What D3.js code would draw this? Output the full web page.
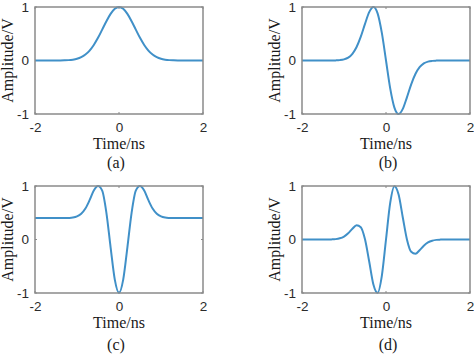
<!DOCTYPE html>
<html>
<head>
<meta charset="utf-8">
<script src="https://cdn.jsdelivr.net/npm/d3@7"></script>
<style>
  html, body { margin: 0; padding: 0; background: #fff; }
  svg { display: block; }
</style>
</head>
<body>
<svg id="chart" width="474" height="355"></svg>
<script>
// ---- data ----
const time = [-2.0,-1.9,-1.8,-1.7,-1.6,-1.5,-1.4,-1.3,-1.2,-1.1,-1.0,-0.9,-0.8,-0.7,-0.6,-0.5,-0.4,-0.3,-0.2,-0.1,
  0.0,0.1,0.2,0.3,0.4,0.5,0.6,0.7,0.8,0.9,1.0,1.1,1.2,1.3,1.4,1.5,1.6,1.7,1.8,1.9,2.0];

const pulseA = [0,0,0,0,0,0,0.001,0.003,0.007,0.016,0.032,0.062,0.111,0.186,0.291,0.424,0.578,0.734,0.872,0.966,
  1.0,0.966,0.872,0.734,0.578,0.424,0.291,0.186,0.111,0.062,0.032,0.016,0.007,0.003,0.001,0,0,0,0,0,0];

const pulseB = [0,0,0,0,0,0,0,0,0.002,0.007,0.021,0.055,0.126,0.253,0.446,0.685,0.904,1.0,0.880,0.520,
  0,-0.520,-0.880,-1.0,-0.904,-0.685,-0.446,-0.253,-0.126,-0.055,-0.021,-0.007,-0.002,0,0,0,0,0,0,0,0];

const pulseC = [0.4,0.4,0.4,0.4,0.4,0.4,0.4,0.4,0.403,0.410,0.431,0.481,0.579,0.735,0.915,1.0,0.914,0.499,-0.146,-0.751,
  -1.0,-0.751,-0.146,0.499,0.914,1.0,0.915,0.735,0.579,0.481,0.431,0.410,0.403,0.4,0.4,0.4,0.4,0.4,0.4,0.4,0.4];

const pulseD = [0,0,0,0,0,0,0,0.002,0.007,0.022,0.055,0.116,0.200,0.267,0.231,0.004,-0.411,-0.841,-0.996,-0.683,
  0,0.683,0.996,0.841,0.411,-0.004,-0.231,-0.267,-0.200,-0.116,-0.055,-0.022,-0.007,-0.002,0,0,0,0,0,0,0];

const xTicks = [-2, 0, 2];
const yTicks = [-1, 0, 1];
const xLabel = "Time/ns";
const yLabel = "Amplitude/V";
const panelNames = ["(a)", "(b)", "(c)", "(d)"];
const series = [pulseA, pulseB, pulseC, pulseD];

// ---- layout ----
const panels = [
  { left: 35,  top: 7,   nameDx: -3, nameDy: 54 },
  { left: 302, top: 7,   nameDx: 2,  nameDy: 54 },
  { left: 35,  top: 186, nameDx: -3, nameDy: 57 },
  { left: 302, top: 186, nameDx: 2,  nameDy: 57 }
];
const W = 168, H = 107;
const lineColor = "#4090c8";
const boxColor = "#8a8a8a";
const sans = "'Liberation Sans', Arial, sans-serif";
const serif = "'Liberation Serif', 'Times New Roman', serif";

const svg = d3.select("#chart");

panels.forEach((p, i) => {
  const g = svg.append("g").attr("transform", `translate(${p.left},${p.top})`);
  const x = d3.scaleLinear().domain([-2, 2]).range([0, W]);
  const y = d3.scaleLinear().domain([-1, 1]).range([H, 0]);

  const fmt = d => String(d);
  const xAxis = g.append("g").attr("transform", `translate(0,${H})`)
    .call(d3.axisBottom(x).tickValues(xTicks).tickSize(0).tickPadding(8).tickFormat(fmt));
  const yAxis = g.append("g")
    .call(d3.axisLeft(y).tickValues(yTicks).tickSize(0).tickPadding(6).tickFormat(fmt));
  [xAxis, yAxis].forEach(a => {
    a.select(".domain").remove();
    a.selectAll("text")
      .attr("font-family", sans)
      .attr("font-size", 13.5)
      .attr("fill", "#2b2b2b");
  });

  // inner tick marks (MATLAB style)
  xTicks.forEach(t => {
    g.append("line").attr("x1", x(t)).attr("x2", x(t)).attr("y1", H).attr("y2", H - 2)
      .attr("stroke", boxColor).attr("stroke-width", 1);
    g.append("line").attr("x1", x(t)).attr("x2", x(t)).attr("y1", 0).attr("y2", 2)
      .attr("stroke", boxColor).attr("stroke-width", 1);
  });
  yTicks.forEach(t => {
    g.append("line").attr("x1", 0).attr("x2", 2).attr("y1", y(t)).attr("y2", y(t))
      .attr("stroke", boxColor).attr("stroke-width", 1);
    g.append("line").attr("x1", W).attr("x2", W - 2).attr("y1", y(t)).attr("y2", y(t))
      .attr("stroke", boxColor).attr("stroke-width", 1);
  });

  // curve
  const pts = time.map((t, k) => [t, series[i][k]]);
  g.append("path")
    .datum(pts)
    .attr("fill", "none")
    .attr("stroke", lineColor)
    .attr("stroke-width", 2)
    .attr("stroke-linejoin", "round")
    .attr("d", d3.line().x(d => x(d[0])).y(d => y(d[1])).curve(d3.curveMonotoneX));

  // box
  g.append("rect").attr("x", 0).attr("y", 0).attr("width", W).attr("height", H)
    .attr("fill", "none").attr("stroke", boxColor).attr("stroke-width", 1.5);

  // axis titles
  g.append("text")
    .attr("x", W / 2).attr("y", H + 35)
    .attr("text-anchor", "middle")
    .attr("font-family", serif)
    .attr("font-size", 16)
    .attr("fill", "#1a1a1a")
    .text(xLabel);

  g.append("text")
    .attr("transform", `translate(-22,${H / 2}) rotate(-90)`)
    .attr("text-anchor", "middle")
    .attr("font-family", serif)
    .attr("font-size", 16)
    .attr("fill", "#1a1a1a")
    .text(yLabel);

  // panel name
  g.append("text")
    .attr("x", W / 2 + p.nameDx).attr("y", H + p.nameDy)
    .attr("text-anchor", "middle")
    .attr("font-family", serif)
    .attr("font-size", 16)
    .attr("fill", "#1a1a1a")
    .text(panelNames[i]);
});
</script>
</body>
</html>
